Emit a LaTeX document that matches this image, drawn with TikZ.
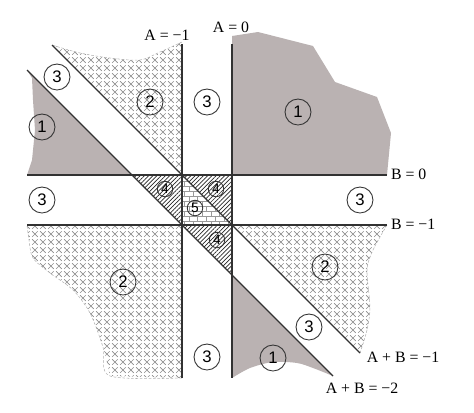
\documentclass[tikz,border=0pt]{standalone}
\usepackage{fontspec}
\setmainfont{Liberation Serif}
\setsansfont{Liberation Sans}
\usetikzlibrary{patterns,patterns.meta}

\definecolor{regiongray}{RGB}{186,178,178}
\definecolor{linegray}{RGB}{50,50,50}

\pgfdeclarepatternformonly{xmarks}{\pgfqpoint{0pt}{0pt}}{\pgfqpoint{4.5pt}{4.5pt}}{\pgfqpoint{4.5pt}{4.5pt}}{
  \pgfsetlinewidth{0.35pt}
  \pgfpathmoveto{\pgfqpoint{0.65pt}{0.65pt}}\pgfpathlineto{\pgfqpoint{3.85pt}{3.85pt}}
  \pgfpathmoveto{\pgfqpoint{0.65pt}{3.85pt}}\pgfpathlineto{\pgfqpoint{3.85pt}{0.65pt}}
  \pgfusepath{stroke}}

\pgfdeclarepatternformonly{smallbricks}{\pgfqpoint{-0.5pt}{-0.5pt}}{\pgfqpoint{5.5pt}{6.1pt}}{\pgfqpoint{5pt}{5.6pt}}{
  \pgfsetlinewidth{0.35pt}
  \pgfpathmoveto{\pgfqpoint{0pt}{0pt}}\pgfpathlineto{\pgfqpoint{5pt}{0pt}}
  \pgfpathmoveto{\pgfqpoint{0pt}{2.8pt}}\pgfpathlineto{\pgfqpoint{5pt}{2.8pt}}
  \pgfpathmoveto{\pgfqpoint{0pt}{0pt}}\pgfpathlineto{\pgfqpoint{0pt}{2.8pt}}
  \pgfpathmoveto{\pgfqpoint{2.5pt}{2.8pt}}\pgfpathlineto{\pgfqpoint{2.5pt}{5.6pt}}
  \pgfusepath{stroke}}

\tikzset{
  num/.style={draw=black!80, circle, line width=0.5pt, minimum size=0.52cm, inner sep=0pt,
    font=\sffamily\fontsize{9.5}{10}\selectfont},
  smallnum/.style={num, minimum size=0.31cm, font=\sffamily\fontsize{7.8}{8}\selectfont},
  lbl/.style={inner sep=1pt, font=\fontsize{9}{10}\selectfont},
  bound/.style={draw=linegray, line width=0.7pt},
  region1/.style={fill=regiongray},
  region2/.style={pattern=xmarks, pattern color=black!45},
  region4/.style={pattern={Lines[angle=45,distance=1.7pt,line width=0.4pt]}, pattern color=black!85},
  region5/.style={pattern=smallbricks, pattern color=black!40},
  edge/.style={draw=black!30, line width=0.3pt, dash pattern=on 1.5pt off 1pt}
}

\begin{document}
\begin{tikzpicture}[x=0.02cm,y=-0.02cm]
\useasboundingbox (0,0) rectangle (474,413);

\coordinate (a1t) at (182,44);
\coordinate (a1b) at (182,378);
\coordinate (a0t) at (232,44);
\coordinate (a0b) at (232,378);
\coordinate (b0l) at (27,175);
\coordinate (b0r) at (387,175);
\coordinate (b1l) at (27,225);
\coordinate (b1r) at (387,225);
\coordinate (d1t) at (52,45);
\coordinate (d1b) at (360,353);
\coordinate (d2t) at (27,70);
\coordinate (d2b) at (333,376);

\fill[region1] (232,36) -- (258,32) -- (313,46) -- (335,82) -- (377,97) -- (391,133) -- (387,175) -- (232,175) -- cycle;
\fill[region1] (d2t) -- (132,175) -- (b0l) -- (32,160) -- (35,130) -- (33,100) -- (32,78) -- cycle;
\fill[region1] (232,275) -- plot[smooth] coordinates {(333,376) (313,368) (297,363) (273,362) (250,368) (232,378)} -- cycle;

\fill[region2] (d1t) -- (182,175) -- plot[smooth] coordinates {(182,42) (160,52) (140,60) (110,58) (80,53) (52,45)} -- cycle;
\fill[region2] (b1l) -- (182,225) -- (a1b) -- plot[smooth] coordinates {(110,376) (103,347) (90,313) (73,290) (50,273) (33,258) (29,240) (27,225)} -- cycle;
\fill[region2] (232,225) -- plot[smooth] coordinates {(387,225) (373,250) (367,270) (370,307) (367,330) (360,353)} -- cycle;
\path[edge] plot[smooth] coordinates {(182,42) (160,52) (140,60) (110,58) (80,53) (52,45)};
\path[edge] plot[smooth] coordinates {(182,378) (110,376) (103,347) (90,313) (73,290) (50,273) (33,258) (29,240) (27,225)};
\path[edge] plot[smooth] coordinates {(387,225) (373,250) (367,270) (370,307) (367,330) (360,353)};

\fill[region4] (132,175) -- (182,175) -- (182,225) -- cycle;
\fill[region4] (182,175) -- (232,175) -- (232,225) -- cycle;
\fill[region4] (182,225) -- (232,225) -- (232,275) -- cycle;
\fill[region5] (182,175) -- (232,225) -- (182,225) -- cycle;

\path[bound] (a1t) -- (a1b);
\path[bound] (a0t) -- (a0b);
\path[bound] (b0l) -- (b0r);
\path[bound] (b1l) -- (b1r);
\path[bound] (d1t) -- (d1b);
\path[bound] (d2t) -- (d2b);

\node[lbl] (la1) at (167,35) {A = −1};
\node[lbl] (la0) at (231,27) {A = 0};
\node[lbl,anchor=west] (lb0) at (389,174) {B = 0};
\node[lbl,anchor=west] (lb1) at (389,224) {B = −1};
\node[lbl] (ld1) at (403,357) {A + B = −1};
\node[lbl] (ld2) at (362,388) {A + B = −2};

\node[num] (n1) at (57,77) {3};
\node[num] (n2) at (150,102) {2};
\node[num] (n3) at (207,102) {3};
\node[num] (n4) at (42,127) {1};
\node[num] (n5) at (42,200) {3};
\node[num] (n6) at (298,112) {1};
\node[num] (n7) at (360,200) {3};
\node[num] (n8) at (123,282) {2};
\node[num] (n9) at (207,357) {3};
\node[num] (n10) at (325,267) {2};
\node[num] (n11) at (309,327) {3};
\node[num] (n12) at (273,358) {1};
\node[smallnum] (s1) at (165,189) {4};
\node[smallnum] (s2) at (216,189) {4};
\node[smallnum] (s3) at (195,208) {5};
\node[smallnum] (s4) at (217,240) {4};
\end{tikzpicture}
\end{document}
